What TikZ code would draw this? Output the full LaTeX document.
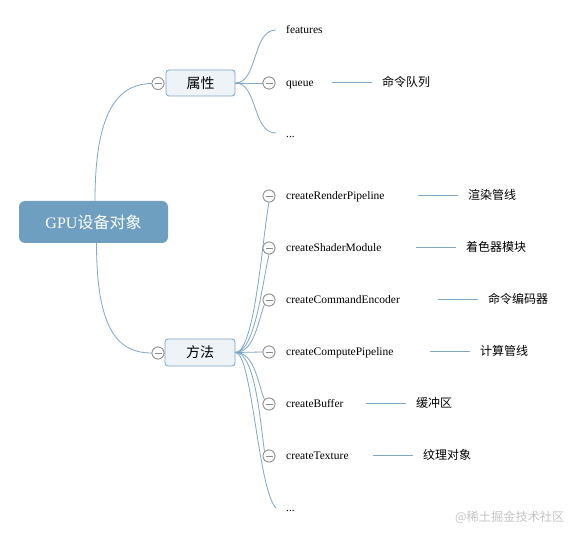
\documentclass[tikz,border=0pt]{standalone}
\usepackage{fontspec}
\setmainfont{Liberation Serif}
\newfontfamily\cjk{Noto Sans CJK SC}
\usetikzlibrary{calc}
\definecolor{linkc}{HTML}{7FA7C6}
\definecolor{rootc}{HTML}{6F9FC0}
\definecolor{boxf}{HTML}{EEF3F8}
\definecolor{boxd}{HTML}{7AA3C4}
\definecolor{circd}{HTML}{8A8A8A}
\definecolor{wmc}{HTML}{C4C4C4}
\begin{document}
\begin{tikzpicture}[x=1pt,y=-1pt,
  link/.style={draw=linkc, line width=0.8pt},
  rootbox/.style={rectangle, rounded corners=6pt, fill=rootc, text=white, minimum width=149pt, minimum height=42pt, inner sep=0pt, font=\fontsize{16}{18}\selectfont},
  subbox/.style={rectangle, rounded corners=3pt, fill=boxf, draw=boxd, line width=0.8pt, minimum width=69pt, minimum height=26pt, inner sep=0pt, font=\cjk\fontsize{14}{16}\selectfont},
  fold/.style={circle, draw=circd, fill=white, line width=0.7pt, minimum size=12pt, inner sep=0pt,
    path picture={\draw[circd, line width=0.7pt] ($(path picture bounding box.west)+(2.5pt,0)$) -- ($(path picture bounding box.east)+(-2.5pt,0)$);}},
  leaf/.style={anchor=west, inner xsep=0pt, inner ysep=0pt, font=\fontsize{11.5}{13}\selectfont, text height=8pt, text depth=2.5pt, yshift=-1.5pt},
  zh/.style={anchor=west, inner sep=0pt, font=\cjk\fontsize{12}{14}\selectfont},
]
\useasboundingbox (0,0) rectangle (579,540);
\fill[white] (0,0) rectangle (579,540);

% main nodes
\node[rootbox] (root) at (93.5,222) {GPU{\cjk 设备对象}};
\node[subbox] (attr) at (200.5,83) {属性};
\node[subbox, minimum width=70pt, minimum height=27pt] (meth) at (200,352.5) {方法};
\node[fold] (ca) at (158,83.5) {};
\node[fold] (cm) at (158,353) {};

% attribute children
\node[fold] (cq) at (269,83) {};
\coordinate (ef) at (276,30);
\coordinate (ed) at (276,133);
\node[leaf] (features) at (286,29) {features};
\node[leaf] (queue) at (286,82) {queue};
\node[leaf] (adots) at (286,133) {...};
\node[zh] (zq) at (382,82) {命令队列};

% method children
\node[fold] (c1) at (269,196) {};
\node[fold] (c2) at (269,248) {};
\node[fold] (c3) at (269,300) {};
\node[fold] (c4) at (269,352) {};
\node[fold] (c5) at (269,404) {};
\node[fold] (c6) at (269,456) {};
\coordinate (e7) at (276,508);
\node[leaf] (m1) at (286,195) {createRenderPipeline};
\node[leaf] (m2) at (286,247) {createShaderModule};
\node[leaf] (m3) at (286,299) {createCommandEncoder};
\node[leaf] (m4) at (286,351) {createComputePipeline};
\node[leaf] (m5) at (286,403) {createBuffer};
\node[leaf] (m6) at (286,455) {createTexture};
\node[leaf] (mdots) at (286,507) {...};
\node[zh] (z1) at (468,195) {渲染管线};
\node[zh] (z2) at (466,247) {着色器模块};
\node[zh] (z3) at (488,299) {命令编码器};
\node[zh] (z4) at (480,351) {计算管线};
\node[zh] (z5) at (416,403) {缓冲区};
\node[zh] (z6) at (423,455) {纹理对象};

% connectors root
\draw[link] ($(root.north)+(1.5,0)$) .. controls ($(root.north)+(1.5,-90)$) and (118,84) .. (ca.west);
\draw[link] ($(root.south)+(3,0)$) .. controls ($(root.south)+(3,90)$) and (120,353) .. (cm.west);

% attribute connectors
\draw[link] (attr.east) .. controls (258,83) and (252,30) .. (ef);
\draw[link] (attr.east) -- (cq.west);
\draw[link] (attr.east) .. controls (258,83) and (252,133) .. (ed);
\draw[link] ([xshift=-50pt]zq.west) -- ([xshift=-10pt]zq.west);

% method connectors
\draw[link] (meth.east) .. controls (255,352) and (262,240) .. (c1.south);
\draw[link] (meth.east) .. controls (255,352) and (262,285) .. (c2.south);
\draw[link] (meth.east) .. controls (255,352) and (258,320) .. (c3.south west);
\draw[link] (meth.east) -- (c4.west);
\draw[link] (meth.east) .. controls (255,352) and (258,385) .. (c5.north west);
\draw[link] (meth.east) .. controls (255,352) and (260,420) .. (c6.north west);
\draw[link] (meth.east) .. controls (252,352) and (258,490) .. (e7);

\foreach \i in {1,...,6}{
  \draw[link] ([xshift=-50pt]z\i.west) -- ([xshift=-10pt]z\i.west);
}

% redraw circles on top
\foreach \c in {ca,cm,cq,c1,c2,c3,c4,c5,c6}{
  \node[fold] at (\c) {};
}

\node[anchor=west, inner sep=0pt, text=wmc, font=\cjk\fontsize{12.2}{14}\selectfont] (wm) at (455,517) {@稀土掘金技术社区};
\end{tikzpicture}
\end{document}
